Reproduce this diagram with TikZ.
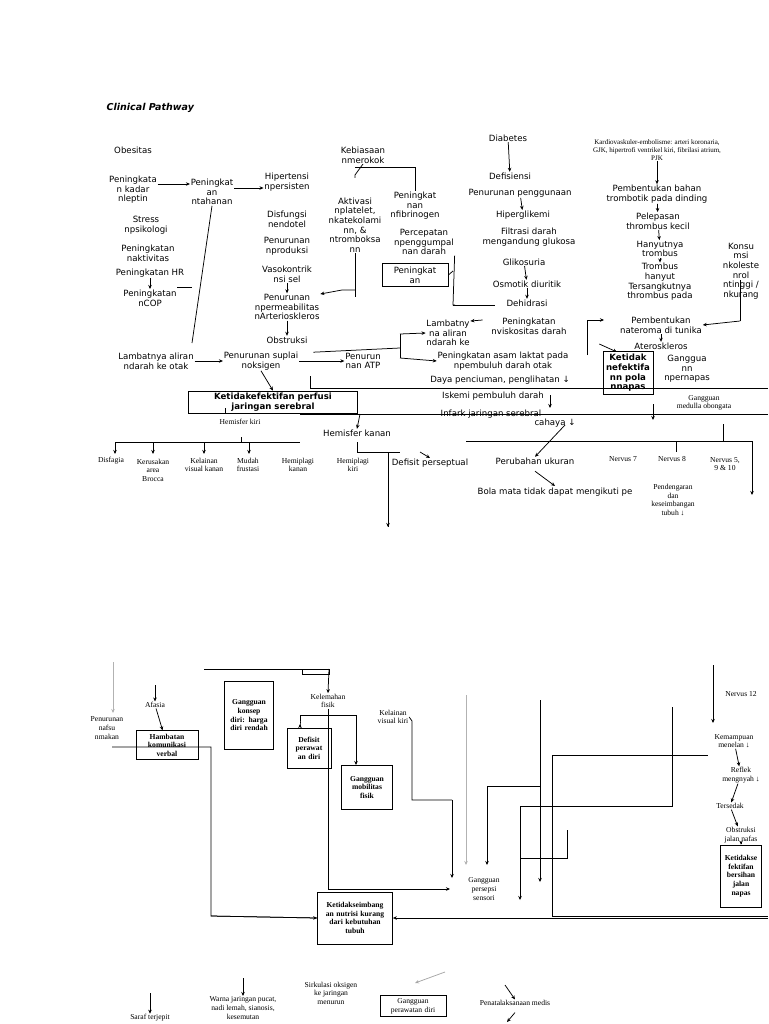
\documentclass[tikz,border=0pt]{standalone}
\usepackage{fontspec}
\setmainfont{DejaVu Sans}
\newfontfamily\srf{Liberation Serif}
\usetikzlibrary{arrows.meta}
\tikzset{every picture/.style={line width=0.75pt}}
\tikzset{
  t/.style={inner sep=0.5pt,align=center,font=\fontsize{8.6}{9.6}\selectfont},
  s/.style={inner sep=0.5pt,align=center,font=\srf\fontsize{7.6}{8.6}\selectfont},
  bx/.style={draw,inner sep=2pt,minimum height=#1},
  bx/.default=10pt,
  ar/.style={-{Stealth[length=4pt,width=3.5pt]}},
}
\begin{document}
\begin{tikzpicture}[x=1pt,y=-1pt]
\useasboundingbox (0,0) rectangle (768,1024);

%Text Node title
\node [anchor=west,font=\bfseries\itshape\fontsize{9.5}{11}\selectfont] (title) at (103,108) {Clinical Pathway};

%left column
\node [t] (obes) at (133,150) {Obesitas};
\node [t] (leptin) at (133,190) {Peningkata\\n kadar\\nleptin};
\node [t] (tahan) at (212,192) {Peningkat\\an\\ntahanan};
\node [t] (hiper) at (287,182) {Hipertensi\\npersisten};
\node [t] (disf) at (287,219) {Disfungsi\\nendotel};
\node [t] (prod) at (287,246) {Penurunan\\nproduksi};
\node [t] (vaso) at (287,274) {Vasokontrik\\nsi sel};
\node [t] (perm) at (287,307) {Penurunan\\npermeabilitas\\nArterioskleros};
\node [t] (obst) at (287,340) {Obstruksi};
\node [t] (stres) at (146,225) {Stress\\npsikologi};
\node [t] (aktiv) at (148,253) {Peningkatan\\naktivitas};
\node [t] (hr) at (150,273) {Peningkatan HR};
\node [t] (cop) at (150,298) {Peningkatan\\nCOP};

%merokok
\node [t] (rokok) at (363,155) {Kebiasaan\\nmerokok};
\node [t] (plat) at (355,225) {Aktivasi\\nplatelet,\\nkatekolami\\nn, \&\\ntromboksa\\nn};
\node [t] (fibr) at (415,206) {Peningkat\\nan\\nfibrinogen};
\node [t] (cepat) at (424,242) {Percepatan\\npenggumpal\\nan darah};
\node [t,draw,inner sep=3pt,text width=60pt] (ningkat) at (415,275) {Peningkat\\an};
\node [t] (lamb2) at (448,333) {Lambatny\\na aliran\\ndarah ke};

%middle row
\node [t] (lamb) at (156,361) {Lambatnya aliran\\ndarah ke otak};
\node [t] (supl) at (261,361) {Penurunan suplai\\noksigen};
\node [t] (atp) at (363,361) {Penurun\\nan ATP};
\node [t] (lakt) at (503,361) {Peningkatan asam laktat pada\\npembuluh darah otak};
\node [t] (daya) at (500,380) {Daya penciuman, penglihatan ↓};
\node [t] (iske) at (493,396) {Iskemi pembuluh darah};
\node [t] (infa) at (491,414) {Infark jaringan serebral};
\node [t] (caha) at (555,423) {cahaya ↓};
\node [t,draw,font=\bfseries\fontsize{8.6}{9.6}\selectfont,text width=165pt,inner sep=2pt] (perf) at (273,402) {Ketidakefektifan perfusi\\jaringan serebral};
\node [s,fill=white] (hki) at (240,422) {Hemisfer kiri};
\node [t] (hka) at (357,433) {Hemisfer kanan};

%row of deficits
\node [s] (disfa) at (111,461) {Disfagia};
\node [s] (broc) at (153,470) {Kerusakan\\area\\Brocca};
\node [s] (kvk) at (204,465) {Kelainan\\visual kanan};
\node [s] (frus) at (248,465) {Mudah\\frustasi};
\node [s] (hpka) at (298,465) {Hemiplagi\\kanan};
\node [s] (hpki) at (353,465) {Hemiplagi\\kiri};
\node [t] (pers) at (430,463) {Defisit perseptual};
\node [t] (ukur) at (535,461) {Perubahan ukuran};
\node [t] (bola) at (555,492) {Bola mata tidak dapat mengikuti pe};
\node [s,fill=white] (n7) at (623,459) {Nervus 7};
\node [s] (n8) at (672,459) {Nervus 8};
\node [s] (deng) at (673,500) {Pendengaran\\dan\\keseimbangan\\tubuh ↓};
\node [s] (n5) at (725,464) {Nervus 5,\\9 \& 10};

%diabetes column
\node [t] (diab) at (508,138) {Diabetes};
\node [t] (defi) at (510,176) {Defisiensi};
\node [t] (peng) at (520,193) {Penurunan penggunaan};
\node [t] (hgli) at (523,215) {Hiperglikemi};
\node [t] (filt) at (529,237) {Filtrasi darah\\mengandung glukosa};
\node [t] (glik) at (524,262) {Glikosuria};
\node [t] (osmo) at (527,284) {Osmotik diuritik};
\node [t] (dehi) at (527,303) {Dehidrasi};
\node [t] (visk) at (529,326) {Peningkatan\\nviskositas darah};

%kardio column
\node [s,font=\srf\fontsize{7}{8}\selectfont] (kard) at (657,150) {Kardiovaskuler-embolisme: arteri koronaria,\\GJK, hipertrofi ventrikel kiri, fibrilasi atrium,\\PJK};
\node [t] (bent) at (657,194) {Pembentukan bahan\\trombotik pada dinding};
\node [t] (lepa) at (658,221) {Pelepasan\\thrombus kecil};
\node [t] (hany) at (660,249) {Hanyutnya\\trombus};
\node [t] (tham) at (660,282) {Trombus\\hanyut\\Tersangkutnya\\thrombus pada};
\node [t] (ater) at (661,325) {Pembentukan\\nateroma di tunika};
\node [t] (ates) at (661,346) {Ateroskleros};
\node [t] (kons) at (741,271) {Konsu\\msi\\nkoleste\\nrol\\ntinggi /\\nkurang};
\node [t,draw,font=\bfseries\fontsize{8.6}{9.6}\selectfont,inner sep=3pt] (pola) at (628,373) {Ketidak\\nefektifa\\nn pola\\nnapas};
\node [t] (napa) at (687,369) {Ganggua\\nn\\npernapas};
\node [s] (medu) at (704,403) {Gangguan\\medulla obongata};

%connectors top
\draw [ar] (leptin.east |- 0,184) -- (tahan.west |- 0,184);
\draw [ar] (tahan.east |- 0,188) -- (hiper.west |- 0,188);
\draw [ar] (hr) -- (cop);
\draw [ar] (vaso) -- (perm);
\draw [ar] (perm) -- (obst);
\draw (rokok.south) -- (355,175) -- (355,178);
\draw (355,167) -- (415,167) -- (fibr.north);
\draw [ar] (355,290) -- (342,290) -- (perm.east |- 0,294);
\draw (plat.south) -- (355,297);
\draw (tahan.south) -- (192,343);
\draw (cop.east |- 0,287) -- (192,287);
\draw (cepat.south east) -- (453,305) -- (455,305);
\draw (ningkat.east) -- (453,271);
\draw (453,305) -- (495,305);
\draw [ar] (lamb) -- (supl);
\draw [ar] (supl) -- (atp);
\draw (obst.south east) ++(5,8) -- (400,348);
\draw [ar] (400,334) -- (lamb2.west |- 0,333);
\draw (400,334) -- (400,358);
\draw [ar] (400,358) -- (lakt.west);
\draw [ar] (supl.south) -- (perf.north);
\draw (310,376) -- (310,388);
\draw (310,388) -- (768,388);
\draw (300,414) -- (768,414);
\draw [ar] (diab) -- (defi);
\draw [ar] (peng) -- (hgli);
\draw [ar] (glik) -- (osmo);
\draw [ar] (osmo) -- (dehi);
\draw [ar] (visk.west) ++(-8,-6) -- (lamb2.east |- 0,321);
\draw [ar] (kard) -- (bent);
\draw [ar] (bent) -- (lepa);
\draw [ar] (lepa) -- (hany);
\draw [ar] (hany) -- (tham);
\draw [ar] (ater) -- (ates);
\draw [ar] (587,355) -- (587,320) -- (604,320);
\draw [ar] (740,321) -- (ater.east);
\draw (740,321) -- (740,280);
\draw [ar] (ater.south west) ++(-20,10) -- (617,352);
\draw [ar] (565,425) -- (ukur.north);
\draw [ar] (550,395) -- (550,408);
\draw [ar] (653,404) -- (653,420);
\draw (466,441) -- (752,441);
\draw (676,441) -- (676,452);
\draw (723,424) -- (723,441);
\draw [ar] (752,441) -- (752,495);
\draw [ar] (ukur.south) ++(0,6) -- (555,486);

%hemisfer
\draw (225,408) -- (225,414);
\draw [ar] (360,414) -- (hka.north);
\draw (241,437) -- (241,442);
\draw (115,442) -- (300,442);
\foreach \xx in {115,153,204,249} \draw [ar] (\xx,442) -- (\xx,454);
\draw (357,442) -- (357,452) -- (400,452);
\draw (388,452) -- (388,527);
\draw [ar] (388,515) -- (388,527);
\draw [ar] (420,452) -- (pers.north);

%bottom part
\node [s] (afas) at (155,705) {Afasia};
\node [s] (nafs) at (107,728) {Penurunan\\nafsu\\nmakan};
\node [s,draw,font=\bfseries\srf\fontsize{7.6}{8.6}\selectfont,text width=56pt,inner sep=3pt] (hamb) at (167,745) {Hambatan\\komunikasi\\verbal};
\node [s,draw,font=\bfseries\srf\fontsize{7.6}{8.6}\selectfont,text width=48pt,minimum height=68pt,anchor=north] (kons2) at (249,681) {Gangguan\\konsep\\diri: harga\\diri rendah};
\node [s] (lema) at (328,701) {Kelemahan\\fisik};
\node [s] (vki) at (393,717) {Kelainan\\visual kiri};
\node [s,draw,font=\bfseries\srf\fontsize{7.6}{8.6}\selectfont,text width=40pt,minimum height=40pt,inner sep=2pt] (dper) at (309,748) {Defisit\\perawat\\an diri};
\node [s,draw,font=\bfseries\srf\fontsize{7.6}{8.6}\selectfont,text width=50pt,minimum height=44pt,anchor=north] (mobi) at (367,765) {Gangguan\\mobilitas\\fisik};
\node [s] (psep) at (484,889) {Gangguan\\persepsi\\sensori};
\node [s,draw,font=\bfseries\srf\fontsize{7.6}{8.6}\selectfont,text width=74pt,minimum height=52pt] (nutr) at (355,918) {Ketidakseimbang\\an nutrisi kurang\\dari kebutuhan\\tubuh};
\node [s] (n12) at (741,694) {Nervus 12};
\node [s] (tel) at (734,741) {Kemampuan\\menelan ↓};
\node [s] (refl) at (741,775) {Reflek\\mengnyah ↓};
\node [s] (sedak) at (730,806) {Tersedak};
\node [s] (objn) at (741,835) {Obstruksi\\jalan nafas};
\node [s,draw,font=\bfseries\srf\fontsize{7.6}{8.6}\selectfont,text width=40pt,minimum height=62pt] (bers) at (741,876) {Ketidakse\\fektifan\\bersihan\\jalan\\napas};
\node [s] (sara) at (150,1018) {Saraf terjepit};
\node [s] (warn) at (243,1008) {Warna jaringan pucat,\\nadi lemah, sianosis,\\kesemutan};
\node [s] (sirk) at (331,993) {Sirkulasi oksigen\\ke jaringan\\menurun};
\node [s,draw,text width=60pt,inner sep=3pt] (gper) at (413,1006) {Gangguan\\perawatan diri};
\node [s] (pena) at (515,1003) {Penatalaksanaan medis};

\draw (204,669) -- (329,669);
\draw (302,669) -- (302,674) -- (329,674) -- (329,669);
\draw [ar] (329,669) -- (lema.north);
\draw [ar] (155,685) -- (afas.north);
\draw [ar] (afas) -- (hamb);
\draw [ar,gray!60] (113,662) -- (113,713);
\draw (112,747) -- (211,747) -- (211,916) -- (nutr.west);
\draw [ar] (211,916) -- (nutr.west);
\draw (lema.south) -- (328,889);
\draw [ar] (328,889) -- (450,889);
\draw (300,715) -- (356,715);
\draw [ar] (300,715) -- (dper.north west -| 300,0) |- (300,724);
\draw [ar] (356,715) -- (mobi.north -| 356,0);
\draw (vki.east) -- (412,721) -- (412,800) -- (452,800);
\draw [ar] (452,800) -- (452,878);
\draw [ar,gray!60] (466,695) -- (466,865);
\draw [ar] (487,786) -- (487,865);
\draw (487,786) -- (540,786);
\draw (540,700) -- (540,870);
\draw [ar] (540,870) -- (540,882);
\draw [ar] (768,918) -- (nutr.east);
\draw [ar] (713,665) -- (713,723);
\draw (552,755) -- (708,755);
\draw (552,755) -- (552,916) -- (768,916);
\draw (672,707) -- (672,806) -- (520,806);
\draw [ar] (520,806) -- (520,900);
\draw (520,858) -- (567,858) -- (567,830);
\draw [ar] (tel) -- (refl);
\draw [ar] (refl) -- (sedak);
\draw [ar] (sedak) -- (objn);
\draw [ar] (objn) -- (bers);
\draw [ar] (150,993) -- (sara.north);
\draw [ar] (243,978) -- (warn.north);
\draw [ar,gray!70] (445,972) -- (415,983);
\draw [ar] (505,985) -- (pena.north);
\draw [ar] (pena.south) ++(0,6) -- (507,1022);
\end{tikzpicture}
\end{document}
